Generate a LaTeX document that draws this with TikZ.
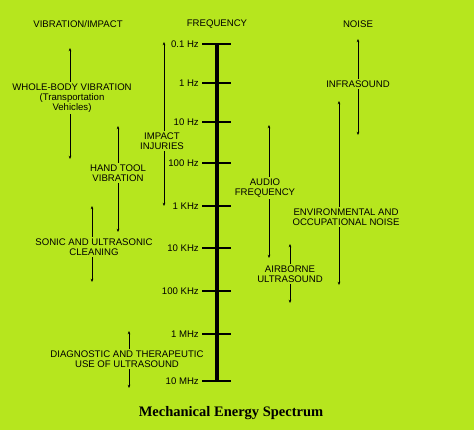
\documentclass[tikz,border=0pt]{standalone}
\usepackage{fontspec}
\setmainfont{Liberation Sans}
\newfontfamily\titlefont{Liberation Serif}
\usetikzlibrary{arrows.meta}
\definecolor{lime}{RGB}{182,230,30}

\begin{document}
\begin{tikzpicture}[x=1pt,y=-1pt,>={Stealth[length=3.2pt,width=2.6pt]},
  font=\fontsize{9.6}{10.2}\selectfont,
  lbl/.style={align=center,inner sep=1.5pt},
  rng/.style={line width=0.8pt},
  tick/.style={line width=1.6pt},
  axis/.style={line width=4pt}]
\fill[lime] (0,0) rectangle (474,430);
\useasboundingbox (0,0) rectangle (474,430);
% column heads
\node[lbl] (hvib) at (78,24) {VIBRATION/IMPACT};
\node[lbl] (hfrq) at (217,24) {FREQUENCY};
\node[lbl] (hnoi) at (358,24) {NOISE};
% frequency axis
\coordinate (atop) at (216.5,43.5);
\coordinate (abot) at (216.5,381);
\draw[axis] (atop) -- (abot);
\foreach \i/\y/\f in {1/44/0.1 Hz,2/83/1 Hz,3/122/10 Hz,4/163/100 Hz,5/206/1 KHz,
  6/248/10 KHz,7/291/100 KHz,8/334/1 MHz,9/381/10 MHz}{
  \node[lbl,anchor=east] (f\i) at (200.5,\y) {\f};
  \draw[tick] ([xshift=1.5pt]f\i.east) -- ++(28.5,0);
}
% vibration / impact
\node[lbl] (wbv) at (72,98) {WHOLE-BODY VIBRATION\\(Transportation\\Vehicles)};
\coordinate (wbv1) at (70,48); \coordinate (wbv2) at (70,159);
\draw[rng,->] (wbv.north -| wbv1) -- (wbv1);
\draw[rng,->] (wbv.south -| wbv2) -- (wbv2);
\node[lbl] (htv) at (118,173) {HAND TOOL\\VIBRATION};
\coordinate (htv1) at (118,126); \coordinate (htv2) at (118,232);
\draw[rng,->] (htv.north -| htv1) -- (htv1);
\draw[rng,->] (htv.south -| htv2) -- (htv2);
\node[lbl] (imp) at (162,141) {IMPACT\\INJURIES};
\coordinate (imp1) at (164,42); \coordinate (imp2) at (164,206);
\draw[rng,->] (imp.north -| imp1) -- (imp1);
\draw[rng,->] (imp.south -| imp2) -- (imp2);
\node[lbl] (son) at (94,247) {SONIC AND ULTRASONIC\\CLEANING};
\coordinate (son1) at (92,206); \coordinate (son2) at (92,282);
\draw[rng,->] (son.north -| son1) -- (son1);
\draw[rng,->] (son.south -| son2) -- (son2);
\node[lbl] (dia) at (127,359) {DIAGNOSTIC AND THERAPEUTIC\\USE OF ULTRASOUND};
\coordinate (dia1) at (129,331); \coordinate (dia2) at (129,388);
\draw[rng,->] (dia.north -| dia1) -- (dia1);
\draw[rng,->] (dia.south -| dia2) -- (dia2);
% noise
\node[lbl] (inf) at (358,84) {INFRASOUND};
\coordinate (inf1) at (358,39); \coordinate (inf2) at (358,135);
\draw[rng,->] (inf.north -| inf1) -- (inf1);
\draw[rng,->] (inf.south -| inf2) -- (inf2);
\node[lbl] (env) at (346,217) {ENVIRONMENTAL AND\\OCCUPATIONAL NOISE};
\coordinate (env1) at (339,101); \coordinate (env2) at (339,285);
\draw[rng,->] (env.north -| env1) -- (env1);
\draw[rng,->] (env.south -| env2) -- (env2);
\node[lbl] (aud) at (265,188) {AUDIO\\FREQUENCY};
\coordinate (aud1) at (269,125); \coordinate (aud2) at (269,258);
\draw[rng,->] (aud.north -| aud1) -- (aud1);
\draw[rng,->] (aud.south -| aud2) -- (aud2);
\node[lbl] (air) at (290,274) {AIRBORNE\\ULTRASOUND};
\coordinate (air1) at (290,244); \coordinate (air2) at (290,303);
\draw[rng,->] (air.north -| air1) -- (air1);
\draw[rng,->] (air.south -| air2) -- (air2);
% caption
\node[lbl] (cap) at (231,413) {\titlefont\bfseries\fontsize{14.5}{16}\selectfont Mechanical Energy Spectrum};
\end{tikzpicture}
\end{document}
